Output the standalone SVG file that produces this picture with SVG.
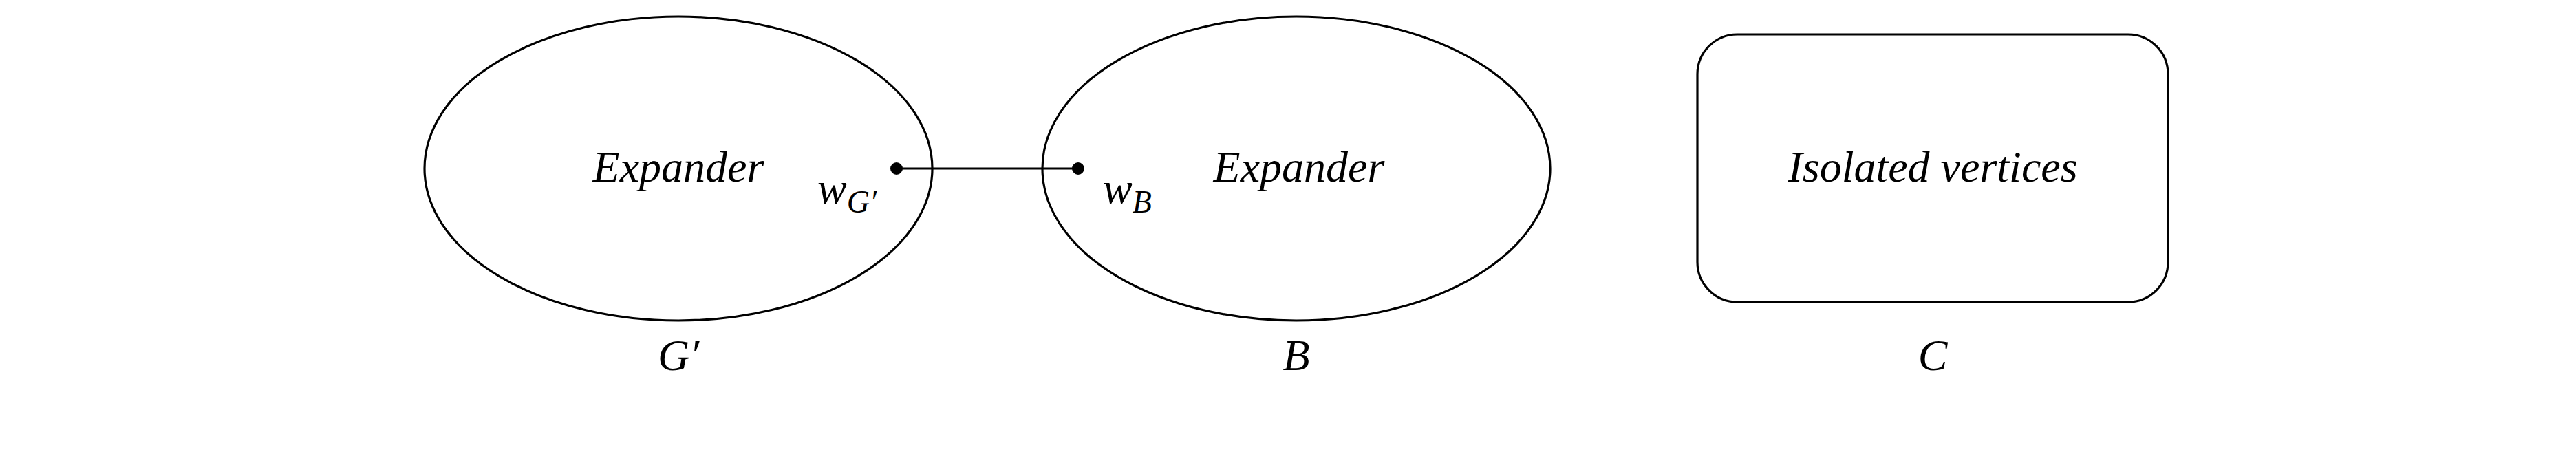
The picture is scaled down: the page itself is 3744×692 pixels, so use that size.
<svg xmlns="http://www.w3.org/2000/svg" width="3744" height="692" viewBox="0 0 3744 692">
<style>
.s{fill:none;stroke:#000;stroke-width:3.2}
text{font-family:"Liberation Serif","DejaVu Serif",serif;font-style:italic;font-size:64px;fill:#000}
.m{text-anchor:middle;dominant-baseline:central}
.sub{font-size:46px}
</style>
<rect width="3744" height="692" fill="#fff"/>
<g id="connectors">
<line class="s" x1="1303" y1="245" x2="1567" y2="245"/>
</g>
<g id="Gprime">
<ellipse class="s" cx="986" cy="245" rx="369" ry="221"/>
<text class="m" x="986" y="242">Expander</text>
<circle cx="1303" cy="245" r="9"/>
<text x="1188" y="295">w<tspan class="sub" dy="14">G′</tspan></text>
<text class="m" x="986" y="516">G′</text>
</g>
<g id="B">
<ellipse class="s" cx="1884" cy="245" rx="369" ry="221"/>
<text class="m" x="1888" y="242">Expander</text>
<circle cx="1567" cy="245" r="9"/>
<text x="1603" y="295">w<tspan class="sub" dy="14">B</tspan></text>
<text class="m" x="1884" y="516">B</text>
</g>
<g id="C">
<rect class="s" x="2467" y="50" width="684" height="389" rx="58"/>
<text class="m" x="2809" y="242">Isolated vertices</text>
<text class="m" x="2809" y="516">C</text>
</g>
</svg>
